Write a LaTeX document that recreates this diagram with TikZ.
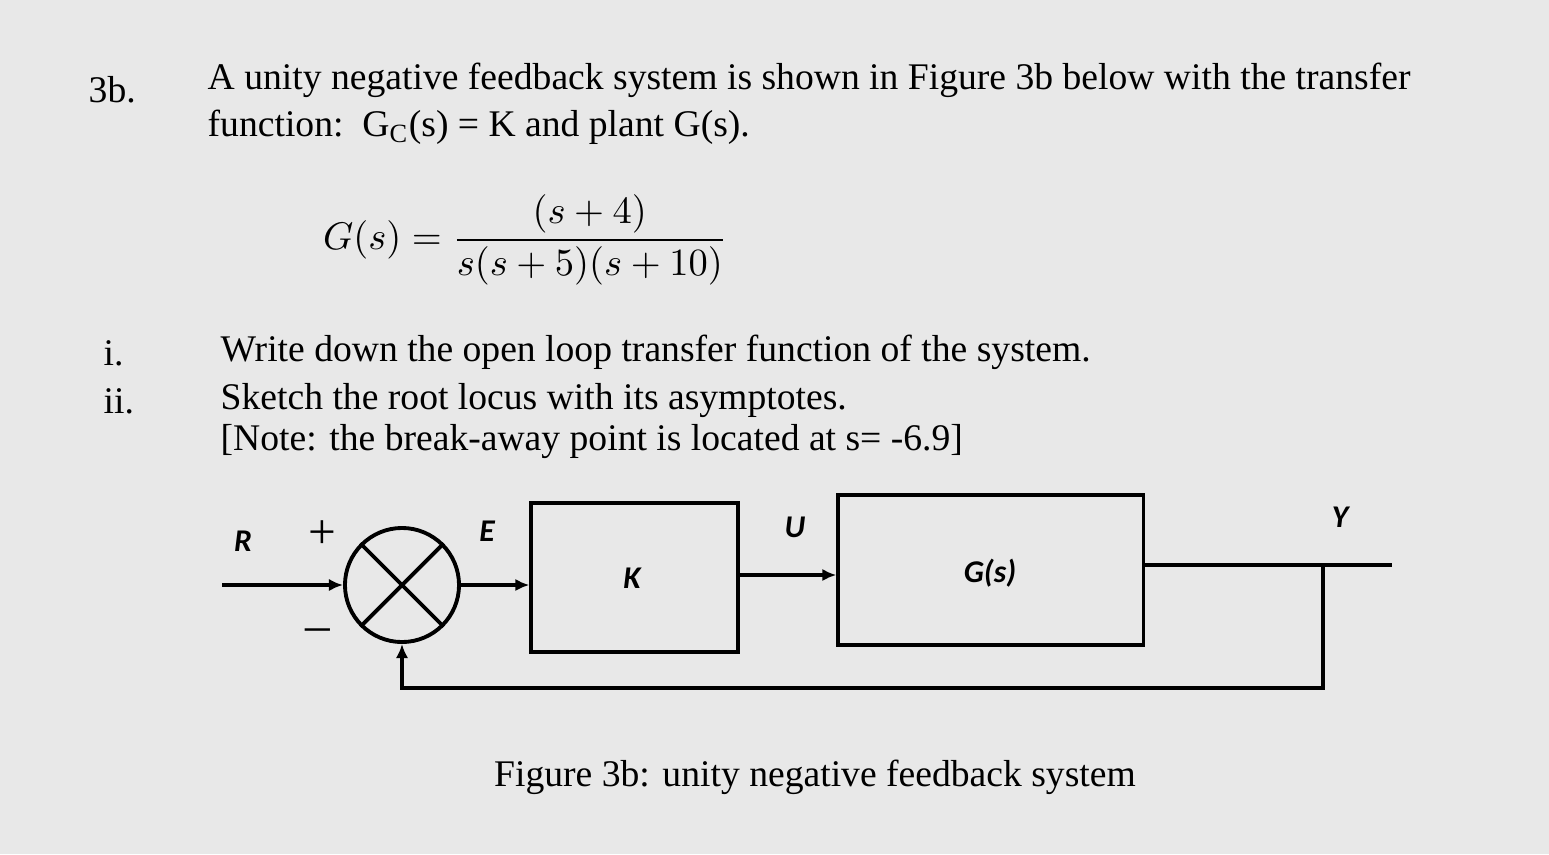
\documentclass[tikz,border=0pt]{standalone}
\usepackage{amsmath}
\usepackage{fontspec}
\setmainfont{Liberation Serif}
\newfontfamily\lab{Carlito}
\usetikzlibrary{arrows.meta}
\begin{document}
\begin{tikzpicture}[x=0.01cm,y=-0.01cm,
  txt/.style={anchor=west,inner sep=0,font=\fontsize{10.7}{10.7}\selectfont},
  lb/.style={inner sep=0,font=\lab\itshape\bfseries\fontsize{9}{9}\selectfont},
  blk/.style={draw,line width=0.9pt},
  wire/.style={line width=1.1pt},
  arr/.style={wire,-{Latex[length=4pt,width=3.5pt]}}]
\fill[gray!18] (0,0) rectangle (1549,854);
\useasboundingbox (0,0) rectangle (1549,854);
\node[txt] (q) at (88,90) {3b.};
\node[txt] (l1) at (207,80) {A unity negative feedback system is shown in Figure 3b below with the transfer};
\node[txt] (l2) at (207,127) {function:\ \ G\textsubscript{C}(s) = K and plant G(s).};
\node[inner sep=0,font=\fontsize{10.8}{10.8}\selectfont] (eq) at (525,240) {$G(s)=\dfrac{(s+4)}{s(s+5)(s+10)}$};
\node[txt] (r1) at (103,353) {i.};
\node[txt] (r2) at (103,401) {ii.};
\node[txt] (t1) at (220,352) {Write down the open loop transfer function of the system.};
\node[txt] (t2) at (220,400) {Sketch the root locus with its asymptotes.};
\node[txt] (t3) at (220,441) {[Note: the break-away point is located at s= -6.9]};
\node[draw,circle,line width=1.1pt,minimum size=1.14cm,inner sep=0] (S) at (402,585) {};
\draw[line width=1.1pt] (S.north west)--(S.south east) (S.north east)--(S.south west);
\node[lb] (R) at (243,541) {R};
\node[inner sep=0,font=\fontsize{14}{14}\selectfont] (pl) at (322,535) {+};
\node[inner sep=0,font=\fontsize{14}{14}\selectfont] (mi) at (318,635) {--};
\coordinate (in) at (222,585);
\draw[arr] (in) -- (S.west);
\node[blk,minimum width=2.07cm,minimum height=1.49cm,inner sep=0] (K) at (634.5,577.5) {};
\node[lb] at (632,578) {K};
\node[lb] (E) at (487,531) {E};
\draw[arr] (S.east) -- (K.west|-S.east);
\node[blk,minimum width=3.05cm,minimum height=1.5cm,inner sep=0] (G) at (990.5,570) {};
\node[lb] at (990,573) {G(s)};
\node[lb] (U) at (795,527) {U};
\draw[arr] (K.east|-0,575) -- (G.west|-0,575);
\coordinate (out) at (1392,565);
\coordinate (tap) at (1323,565);
\node[lb] (Y) at (1340,517) {Y};
\draw[wire] (G.east|-out) -- (out);
\draw[arr] (tap) -- (1323,688) -- (S.south|-0,688) -- (S.south);
\node[inner sep=0,font=\fontsize{10.7}{10.7}\selectfont] (cap) at (815,777) {Figure 3b: unity negative feedback system};
\end{tikzpicture}
\end{document}
